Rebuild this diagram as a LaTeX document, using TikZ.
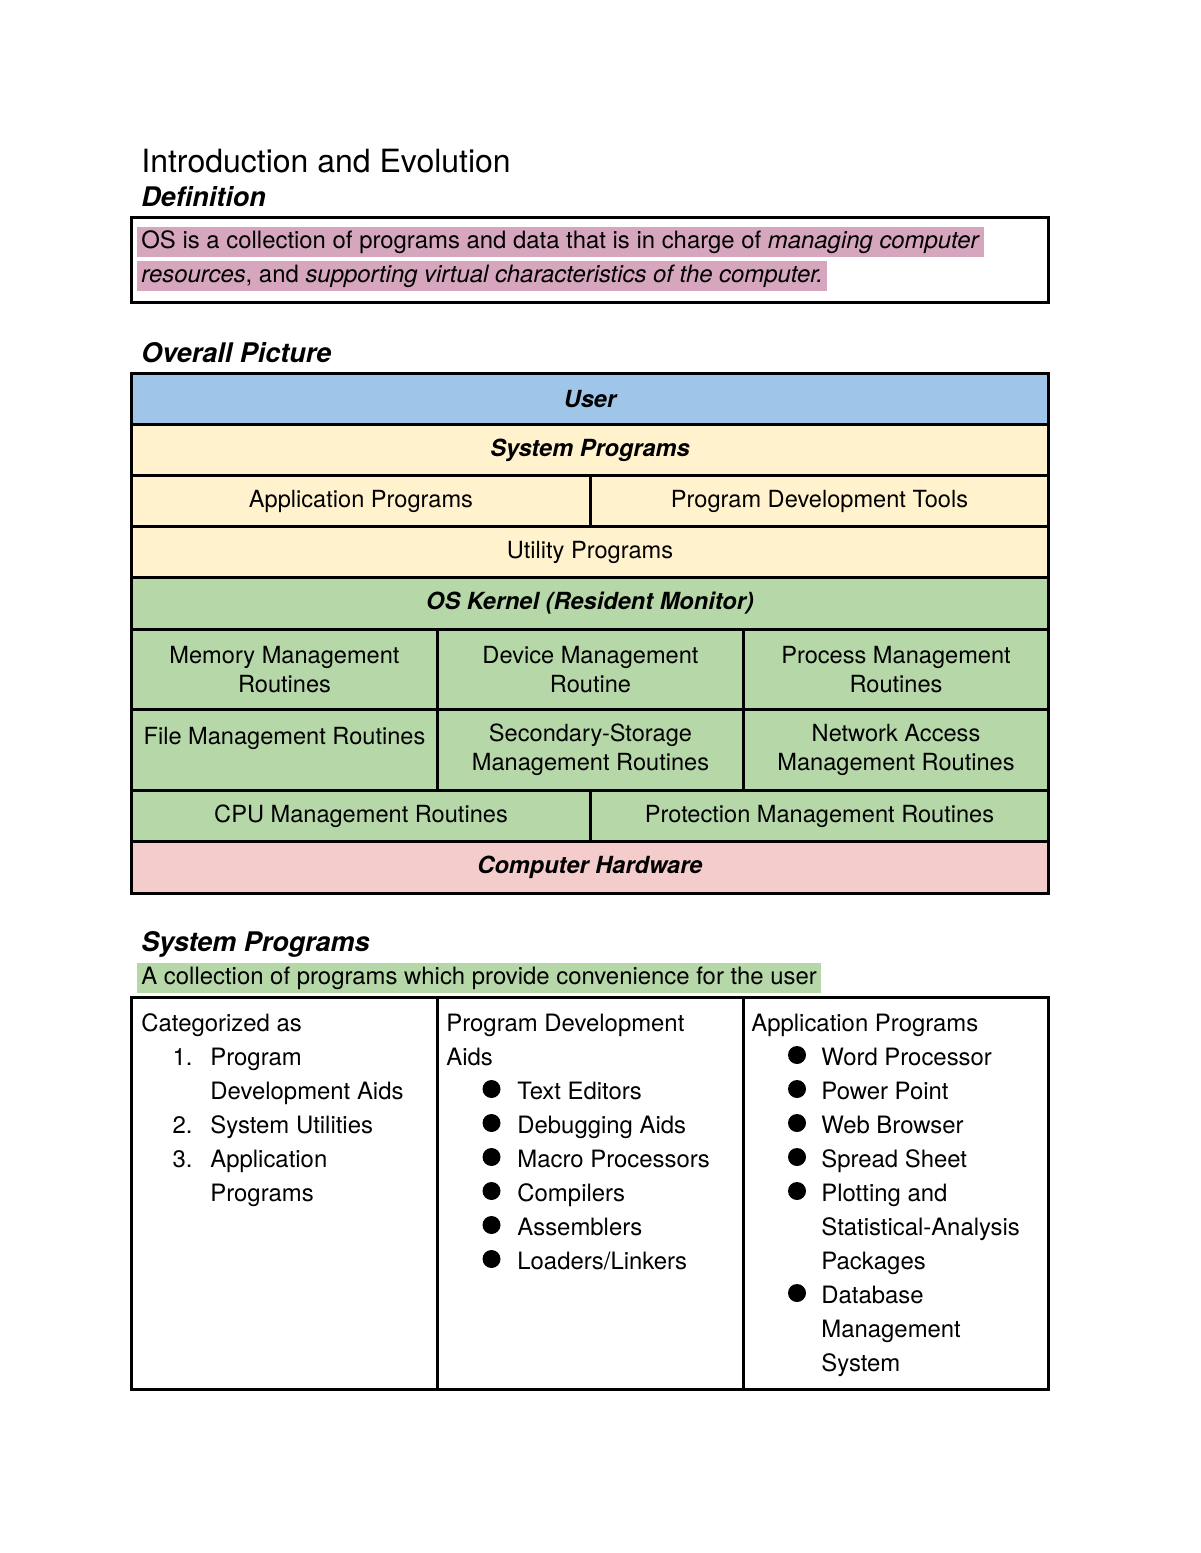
\documentclass[tikz,border=0pt]{standalone}
\usepackage{fontspec}
\setmainfont{TeX Gyre Heros}
\usetikzlibrary{positioning}
\definecolor{userblue}{HTML}{9FC5E8}
\definecolor{progyellow}{HTML}{FFF2CC}
\definecolor{kernelgreen}{HTML}{B6D7A8}
\definecolor{hwpink}{HTML}{F4CCCC}
\definecolor{markpink}{HTML}{D5A6BD}
\definecolor{markgreen}{HTML}{B6D7A8}
\newcommand{\cellfont}{\fontsize{11.8}{14.5}\selectfont}
\newcommand{\listfont}{\fontsize{11.95}{17}\selectfont}
\newcommand{\headfont}{\fontsize{13.5}{16}\selectfont\bfseries\itshape}
\newcommand{\titlefont}{\fontsize{16}{19}\selectfont}

\begin{document}
\begin{tikzpicture}[
    x=0.5pt, y=-0.5pt,
    cell/.style={draw, line width=1.5pt, fill=#1, anchor=north west, inner sep=0pt, align=center, font=\cellfont},
    cellhead/.style={cell=#1, font=\cellfont\bfseries\itshape},
    wfull/.style={minimum width=458.5pt},
    whalf/.style={minimum width=229.5pt},
    wthird/.style={minimum width=153pt},
    hone/.style={minimum height=25.5pt},
    htwo/.style={minimum height=40pt},
    heading/.style={anchor=base west, inner sep=0pt, font=\headfont},
    txt/.style={anchor=base west, inner sep=0pt, font=\listfont},
    hilite/.style={anchor=base west, fill=#1, inner xsep=2pt, inner ysep=0pt, text height=10.5pt, text depth=4.5pt, font=\listfont},
    bulletdot/.style={circle, fill, inner sep=0pt, minimum size=9pt},
]
    \useasboundingbox (0,0) rectangle (1200,1553);

    % Title and definition
    \node[anchor=base west, inner sep=0pt, font=\titlefont] (title) at (141,172) {Introduction and Evolution};
    \node[heading] (defhead) at (141,206) {Definition};
    \node[draw, line width=1.5pt, anchor=north west, minimum width=458.5pt, minimum height=42.5pt, inner sep=0pt] (defbox) at (130,216) {};
    \node[hilite=markpink] (defline1) at (137,248) {OS is a collection of programs and data that is in charge of \textit{managing computer}};
    \node[hilite=markpink] (defline2) at (137,282) {\textit{resources}, and \textit{supporting virtual characteristics of the computer.}};

    % Overall picture
    \node[heading] (overhead) at (141,362) {Overall Picture};
    \node[cellhead=userblue, wfull, hone] (user) at (130,372) {User};
    \node[cellhead=progyellow, wfull, hone] (sysprog) at (130,423) {System Programs};
    \node[cell=progyellow, whalf, hone] (apps) at (130,474) {Application Programs};
    \node[cell=progyellow, minimum width=229pt, hone] (devtools) at (589,474) {Program Development Tools};
    \node[cell=progyellow, wfull, hone] (util) at (130,525) {Utility Programs};
    \node[cellhead=kernelgreen, wfull, minimum height=26pt] (kernel) at (130,576) {OS Kernel (Resident Monitor)};
    \node[cell=kernelgreen, wthird, htwo] (mem) at (130,628) {Memory Management\\Routines};
    \node[cell=kernelgreen, wthird, htwo] (dev) at (436,628) {Device Management\\Routine};
    \node[cell=kernelgreen, minimum width=152.5pt, htwo] (proc) at (742,628) {Process Management\\Routines};
    \node[cell=kernelgreen, wthird, minimum height=40.5pt] (file) at (130,708) {File Management Routines\\~};
    \node[cell=kernelgreen, wthird, minimum height=40.5pt] (store) at (436,708) {Secondary-Storage\\Management Routines};
    \node[cell=kernelgreen, minimum width=152.5pt, minimum height=40.5pt] (net) at (742,708) {Network Access\\Management Routines};
    \node[cell=kernelgreen, whalf, hone] (cpu) at (130,789) {CPU Management Routines};
    \node[cell=kernelgreen, minimum width=229pt, hone] (prot) at (589,789) {Protection Management Routines};
    \node[cellhead=hwpink, wfull, minimum height=26pt] (hw) at (130,840) {Computer Hardware};

    % System programs
    \node[heading] (syshead) at (141,951) {System Programs};
    \node[hilite=markgreen] (sysdesc) at (137,984) {A collection of programs which provide convenience for the user};
    \node[cell=white, wthird, minimum height=196pt] (colcat) at (130,996) {};
    \node[cell=white, wthird, minimum height=196pt] (coldev) at (436,996) {};
    \node[cell=white, minimum width=152.5pt, minimum height=196pt] (colapp) at (742,996) {};

    \node[txt] (cat) at (141,1031) {Categorized as};
    \foreach \n/\y/\t in {1/1065/Program, 2/1133/System Utilities, 3/1167/Application} {
        \node[txt, anchor=base east] (catnum-\n) at (193,\y) {\n.};
        \node[txt] (catitem-\n) at (210,\y) {\t};
    }
    \node[txt] (catitem-1b) at (210,1099) {Development Aids};
    \node[txt] (catitem-3b) at (210,1201) {Programs};

    \node[txt] (pdhead) at (446,1031) {Program Development};
    \node[txt] (pdhead2) at (446,1065) {Aids};
    \foreach \i/\y/\t in {1/1099/Text Editors, 2/1133/Debugging Aids, 3/1167/Macro Processors, 4/1201/Compilers, 5/1235/Assemblers, 6/1269/{Loaders/Linkers}} {
        \node[bulletdot] (pdbul-\i) at (491.5,\y-10) {};
        \node[txt] (pditem-\i) at (517,\y) {\t};
    }

    \node[txt] (apphead) at (751,1031) {Application Programs};
    \foreach \i/\y/\t in {1/1065/Word Processor, 2/1099/Power Point, 3/1133/Web Browser, 4/1167/Spread Sheet, 5/1201/Plotting and, 6/1303/Database} {
        \node[bulletdot] (appbul-\i) at (797,\y-10) {};
        \node[txt] (appitem-\i) at (821,\y) {\t};
    }
    \node[txt] (appitem-5b) at (821,1235) {Statistical-Analysis};
    \node[txt] (appitem-5c) at (821,1269) {Packages};
    \node[txt] (appitem-6b) at (821,1337) {Management};
    \node[txt] (appitem-6c) at (821,1371) {System};
\end{tikzpicture}
\end{document}
